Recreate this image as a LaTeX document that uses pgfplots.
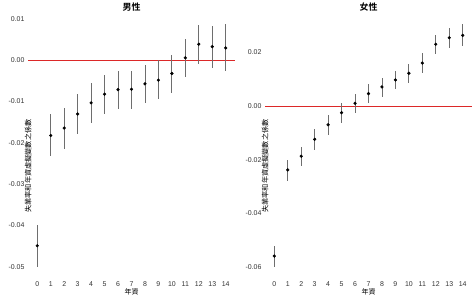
\documentclass[border=0pt]{standalone}
\usepackage{pgfplots}
\pgfplotsset{compat=1.18}
\usepackage{pgfplotstable}
\usepackage{fontspec}
\setmainfont{Liberation Sans}
\newfontfamily\cjk{Noto Sans CJK TC}
\newfontfamily\cjkb{Noto Sans CJK TC}[BoldFont={* Bold}]

\pgfplotstableread{
x y lo hi
0 -0.0449 -0.0500 -0.0398
1 -0.0182 -0.0232 -0.0131
2 -0.0164 -0.0215 -0.0115
3 -0.0130 -0.0179 -0.0082
4 -0.0103 -0.0153 -0.0056
5 -0.0082 -0.0131 -0.0036
6 -0.0071 -0.0119 -0.0025
7 -0.0070 -0.0117 -0.0025
8 -0.0057 -0.0103 -0.0011
9 -0.0048 -0.0094 0.0000
10 -0.0032 -0.0078 0.0013
11 0.0006 -0.0040 0.0052
12 0.0039 -0.0009 0.0085
13 0.0033 -0.0018 0.0083
14 0.0030 -0.0027 0.0087
}\male

\pgfplotstableread{
x y lo hi
0 -0.0559 -0.0598 -0.0521
1 -0.0238 -0.0278 -0.0201
2 -0.0187 -0.0223 -0.0151
3 -0.0124 -0.0164 -0.0087
4 -0.0070 -0.0107 -0.0034
5 -0.0025 -0.0062 0.0010
6 0.0010 -0.0025 0.0045
7 0.0046 0.0010 0.0081
8 0.0071 0.0035 0.0105
9 0.0097 0.0062 0.0131
10 0.0122 0.0085 0.0156
11 0.0160 0.0124 0.0196
12 0.0230 0.0193 0.0266
13 0.0254 0.0217 0.0291
14 0.0263 0.0222 0.0304
}\female

\definecolor{refred}{RGB}{220,40,40}
\definecolor{cigray}{RGB}{110,110,110}

\pgfplotsset{
  panel/.style={
    scale only axis,
    width=207bp, height=258bp,
    xmin=-0.69, xmax=14.69,
    axis line style={draw=none},
    major tick length=0pt,
    xtick={0,...,14},
    scaled y ticks=false,
    tick label style={font=\fontsize{7}{8}\selectfont, text=black!80, /pgf/number format/assume math mode=true},
    yticklabel style={/pgf/number format/.cd, fixed, fixed zerofill, precision=2},
    xticklabel style={anchor=center, yshift=-12bp},
    xlabel={\cjk\fontsize{7}{8}\selectfont 年資},
    every axis x label/.style={at={(axis description cs:0.5,0)}, anchor=center, yshift=-20bp, inner sep=0pt},
    ylabel={\cjk\fontsize{7.2}{8}\selectfont 失業率和年資虛擬變數之係數},
    every axis y label/.style={at={(axis description cs:0,0.5)}, rotate=90, anchor=center, xshift=-23bp, inner sep=0pt},
    every axis title/.style={at={(axis description cs:0.5,1)}, anchor=center, yshift=7bp, inner sep=0pt, font=\cjkb\bfseries\fontsize{9}{10}\selectfont},
    clip=false,
  },
  cis/.style={
    only marks, mark=*, mark size=1.4bp, mark options={fill=black, draw=black},
    error bars/.cd, y dir=both, y explicit, error mark=none,
    error bar style={cigray, line width=0.9bp},
  },
}

\begin{document}
\begin{tikzpicture}
\begin{axis}[panel, at={(0bp,0bp)}, anchor=south west,
  ymin=-0.05126, ymax=0.01121,
  ytick={-0.05,-0.04,-0.03,-0.02,-0.01,0,0.01},
  title={男性}]
\addplot[refred, line width=0.9bp] coordinates {(-0.69,0) (14.69,0)};
\addplot[cis] table[x=x, y=y, y error plus expr=\thisrow{hi}-\thisrow{y}, y error minus expr=\thisrow{y}-\thisrow{lo}] {\male};
\end{axis}
\begin{axis}[panel, at={(237bp,0bp)}, anchor=south west,
  ymin=-0.06182, ymax=0.03426,
  ytick={-0.06,-0.04,-0.02,0,0.02},
  title={女性}]
\addplot[refred, line width=0.9bp] coordinates {(-0.69,0) (14.69,0)};
\addplot[cis] table[x=x, y=y, y error plus expr=\thisrow{hi}-\thisrow{y}, y error minus expr=\thisrow{y}-\thisrow{lo}] {\female};
\end{axis}
\pgfresetboundingbox
\path[use as bounding box] (-28bp,-24bp) rectangle (446bp,272bp);
\end{tikzpicture}
\end{document}
